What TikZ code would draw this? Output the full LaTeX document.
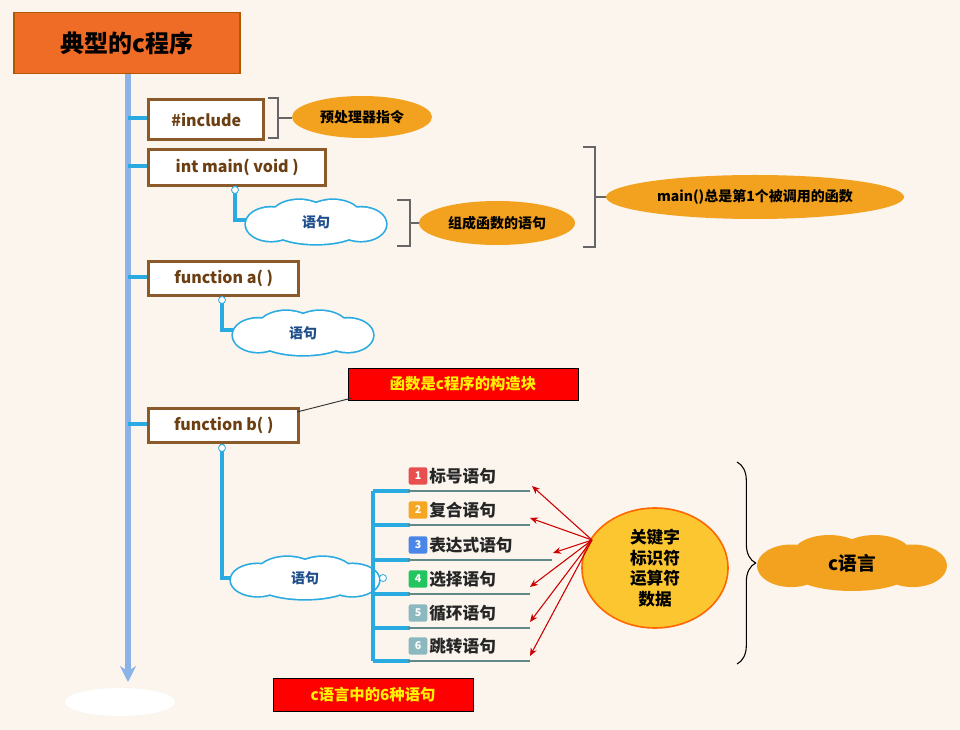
\documentclass[tikz,border=0pt]{standalone}
\usepackage{fontspec}
\setmainfont{Noto Sans CJK SC}
\usetikzlibrary{shapes.symbols,shapes.geometric,arrows.meta,decorations.pathreplacing}
\definecolor{bg}{HTML}{FBF5EE}
\definecolor{trunk}{HTML}{8AB4E8}
\definecolor{sky}{HTML}{29ABE2}
\definecolor{brownb}{HTML}{8B5A2B}
\definecolor{brownt}{HTML}{6B3F12}
\definecolor{orng}{HTML}{F3A21F}
\definecolor{navy}{HTML}{1F4E8C}
\definecolor{uline}{HTML}{5F8A87}
\definecolor{bca}{HTML}{E85050}
\definecolor{bcb}{HTML}{F5A623}
\definecolor{bcc}{HTML}{4A86E8}
\definecolor{bcd}{HTML}{22C55E}
\definecolor{bce}{HTML}{8CB8BF}
\newcommand\puffs[5]{% x y w h pathopts
  \path[#5] (#1-0.32*#3,#2+0.05*#4) ellipse ({0.18*#3} and {0.38*#4})
   (#1-0.12*#3,#2-0.12*#4) ellipse ({0.2*#3} and {0.38*#4})
   (#1+0.12*#3,#2-0.12*#4) ellipse ({0.2*#3} and {0.38*#4})
   (#1+0.32*#3,#2+0.05*#4) ellipse ({0.18*#3} and {0.38*#4})
   (#1,#2+0.15*#4) ellipse ({0.32*#3} and {0.35*#4});}
\newcommand\mycloud[5]{% x y w h colour-opts
  \puffs{#1}{#2}{#3}{#4}{#5}
  \puffs{#1}{#2}{#3}{#4}{fill=white}}
\tikzset{
 codebox/.style={draw=brownb,line width=2.6pt,fill=white,text=brownt,font=\bfseries\fontsize{12}{14}\selectfont,anchor=north west,inner sep=0pt},
 note/.style={ellipse,fill=orng,font=\bfseries\fontsize{10.5}{12}\selectfont,inner sep=0pt},
 cltext/.style={text=navy,font=\bfseries\fontsize{10.5}{12}\selectfont,inner sep=0pt},
 blue/.style={draw=sky,line width=3pt},
 brk/.style={draw=gray!80!black,line width=0.8pt},
 redlab/.style={fill=red,draw=black,text=yellow,font=\bfseries\fontsize{11.5}{13}\selectfont,inner sep=0pt},
 item/.style={anchor=west,font=\bfseries\fontsize{12.5}{14}\selectfont,text=black!85,inner sep=0pt},
 badge/.style={fill=#1,rounded corners=1.5pt,text=white,font=\bfseries\fontsize{8}{9}\selectfont,minimum width=14pt,minimum height=13pt,inner sep=0pt},
 rarr/.style={draw=red!80!black,line width=0.8pt,-{Stealth[length=6pt,width=5pt]}}
}
\begin{document}
\begin{tikzpicture}[x=0.75pt,y=-0.75pt]
\fill[bg] (0,0) rectangle (960,730);
\useasboundingbox (0,0) rectangle (960,730);
% trunk
\fill[white] (120,702) ellipse (55 and 14);
\draw[trunk,line width=4pt,-{Stealth[length=12pt,width=12pt]}] (128,73) -- (128,682);
% title
\node[draw=orange!70!black,line width=1pt,fill={rgb,255:red,238;green,108;blue,38},minimum width=226*0.75pt,minimum height=61*0.75pt,font=\bfseries\fontsize{18}{20}\selectfont] (title) at (127,43) {典型的c程序};
% boxes
\node[codebox,minimum width=115*0.75pt,minimum height=40*0.75pt] (inc) at (147,98) {\#include};
\node[codebox,minimum width=177*0.75pt,minimum height=36*0.75pt] (main) at (147,148) {int main( void )};
\node[codebox,minimum width=150*0.75pt,minimum height=34*0.75pt] (fa) at (147,260) {function a( )};
\node[codebox,minimum width=150*0.75pt,minimum height=34*0.75pt] (fb) at (147,407) {function b( )};
\foreach \y in {118,166,277,424} \draw[blue,line width=3pt] (128,\y) -- (147,\y);
% include note
\draw[brk] (268,98) -- (278,98) -- (278,138) -- (268,138) (278,118) -- (292,118);
\node[note,minimum width=140*0.75pt,minimum height=42*0.75pt] (pre) at (362,117) {预处理器指令};
% main statement
\draw[blue] (235,186) -- (235,220) -- (250,220);
\mycloud{316}{222}{140}{44}{draw=sky,line width=2.5pt}
\node[cltext] (s1) at (316,222) {语句};
\draw[sky,fill=white,line width=0.6pt] (235,190) circle (3.5);
\draw[brk] (397,200) -- (410,200) -- (410,246) -- (397,246) (410,223) -- (420,223);
\node[note,minimum width=156*0.75pt,minimum height=44*0.75pt] (comp) at (497,223) {组成函数的语句};
\draw[brk] (583,147) -- (595,147) -- (595,247) -- (583,247) (595,197) -- (607,197);
\node[note,minimum width=298*0.75pt,minimum height=44*0.75pt] (first) at (755,197) {main()总是第1个被调用的函数};
% function a
\draw[blue] (222,297) -- (222,330) -- (236,330);
\mycloud{303}{333}{140}{44}{draw=sky,line width=2.5pt}
\node[cltext] (s2) at (303,333) {语句};
\draw[sky,fill=white,line width=0.6pt] (222,300) circle (3.5);
% function b label
\node[redlab,minimum width=230*0.75pt,minimum height=32*0.75pt] (blk) at (463,384) {函数是c程序的构造块};
\draw[black!80,line width=0.7pt] (297,412) -- (352,398);
% function b statements
\draw[blue] (222,444) -- (222,578) -- (234,578);
\draw[blue] (375,578) -- (373,578);
\mycloud{305}{578}{148}{42}{draw=sky,line width=2.5pt}
\node[cltext] (s3) at (305,578) {语句};
\draw[sky,fill=white,line width=0.6pt] (222,448) circle (3.5);
\draw[sky,fill=white,line width=0.6pt] (383,578) circle (3.5);
\draw[blue] (373,491) -- (373,661);
\foreach \y/\n/\t/\c/\e in {491/1/标号语句/bca/530, 525/2/复合语句/bcb/530, 560/3/表达式语句/bcc/552, 594/4/选择语句/bcd/530, 628/5/循环语句/bce/530, 661/6/跳转语句/bce/530}{
  \draw[blue] (373,\y) -- (410,\y);
  \draw[uline,line width=2pt] (408,\y) -- (\e,\y);
  \node[badge=\c] (b\n) at (418,\y-15) {\n};
  \node[item] (t\n) at (429,\y-15) {\t};
}
\node[ellipse,draw=orange!80!red,line width=1.2pt,fill={rgb,255:red,252;green,198;blue,48},minimum width=146*0.75pt,minimum height=120*0.75pt,align=center,font=\bfseries\fontsize{12.5}{15.5}\selectfont,inner sep=0pt] (kw) at (655,568) {关键字\\标识符\\运算符\\数据};
\coordinate (ks) at (592,540);
\draw[rarr] (ks) -- (532,486);
\draw[rarr] (ks) -- (530,518);
\draw[rarr] (ks) -- (553,553);
\draw[rarr] (ks) -- (530,587);
\draw[rarr] (ks) -- (530,622);
\draw[rarr] (ks) -- (530,656);
% big brace
\draw[black,line width=0.8pt,decorate,decoration={brace,amplitude=14pt}] (737,462) -- (737,664);
\puffs{852}{563}{190}{56}{fill=orng}
\node[font=\bfseries\fontsize{14}{16}\selectfont,inner sep=0pt] (clang) at (852,563) {c语言};
\node[redlab,minimum width=200*0.75pt,minimum height=33*0.75pt] (six) at (373,695) {c语言中的6种语句};
\end{tikzpicture}
\end{document}
